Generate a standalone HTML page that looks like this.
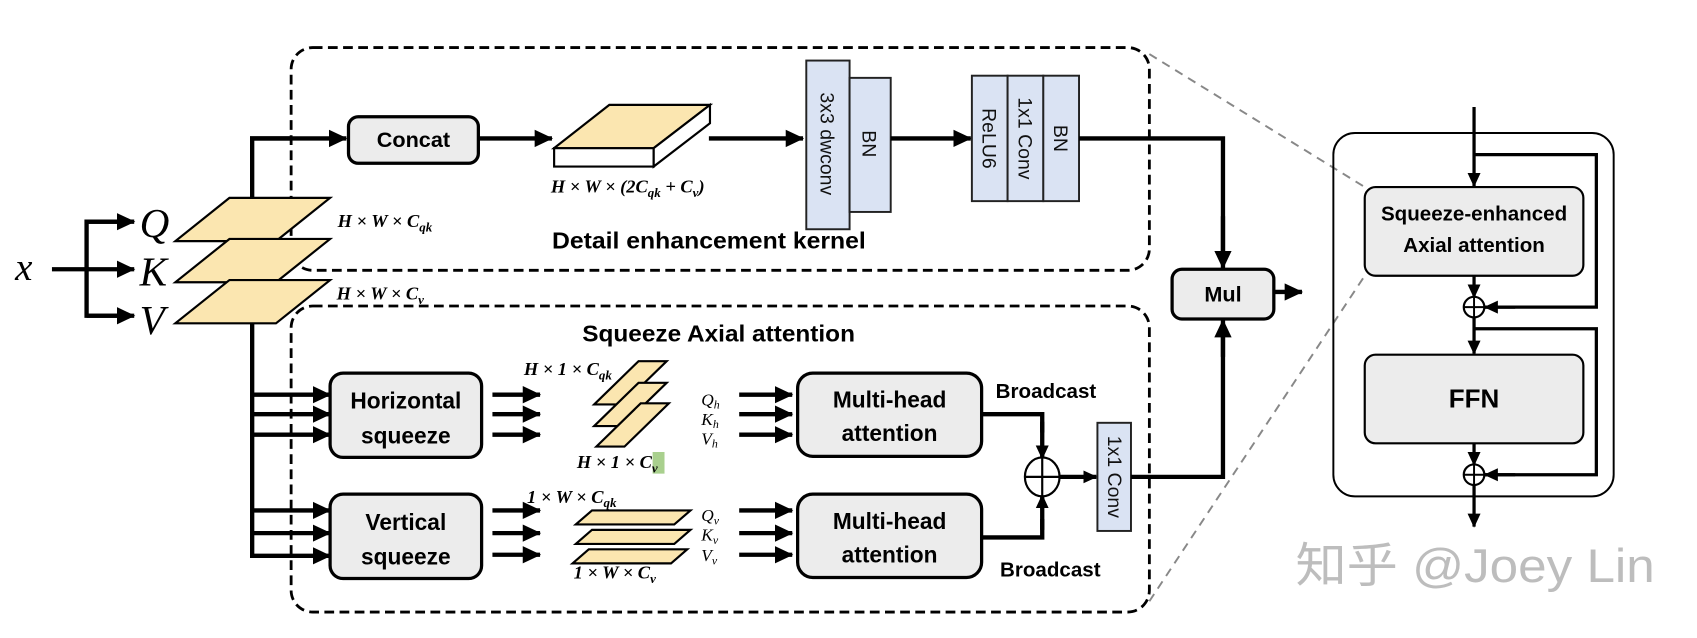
<!DOCTYPE html>
<html><head><meta charset="utf-8"><style>
html,body{margin:0;padding:0;background:#fff;}
svg{display:block;}
.b{font-family:"Liberation Sans",sans-serif;font-weight:bold;fill:#000;}
.m{font-family:"Liberation Serif",serif;font-style:italic;font-weight:bold;fill:#000;}
.mi{font-family:"Liberation Serif",serif;font-style:italic;fill:#000;}
.r{font-family:"Liberation Sans",sans-serif;fill:#111;}
</style></head><body>
<svg width="1697" height="638" viewBox="0 0 1568 590" preserveAspectRatio="none" xmlns="http://www.w3.org/2000/svg">
<defs>
<marker id="a" markerUnits="userSpaceOnUse" markerWidth="18" markerHeight="18" refX="16" refY="9" orient="auto"><path d="M0,1 L17,9 L0,17 Z" fill="#000"/></marker>
<marker id="s" markerUnits="userSpaceOnUse" markerWidth="14" markerHeight="14" refX="12" refY="7" orient="auto"><path d="M0,1 L13,7 L0,13 Z" fill="#000"/></marker>
</defs>
<rect width="1568" height="590" fill="#fff"/>

<line x1="1062" y1="50" x2="1261" y2="173" stroke="#888" stroke-width="1.8" stroke-dasharray="8,6"/>
<line x1="1062" y1="556" x2="1261" y2="255" stroke="#888" stroke-width="1.8" stroke-dasharray="8,6"/>

<rect x="269" y="44" width="793" height="206" rx="20" fill="none" stroke="#000" stroke-width="2.6" stroke-dasharray="9,5"/>
<rect x="269" y="283" width="793" height="283" rx="20" fill="none" stroke="#000" stroke-width="2.6" stroke-dasharray="9,5"/>

<text x="14" y="259" class="mi" font-size="36">x</text>
<polyline points="48,249 82,249" stroke="#000" stroke-width="4" fill="none"/>
<polyline points="110,205 80,205 80,292 110,292" stroke="#000" stroke-width="4" fill="none"/>
<line x1="80" y1="205" x2="124" y2="205" stroke="#000" stroke-width="4" marker-end="url(#a)"/>
<line x1="80" y1="249" x2="124" y2="249" stroke="#000" stroke-width="4" marker-end="url(#a)"/>
<line x1="80" y1="292" x2="124" y2="292" stroke="#000" stroke-width="4" marker-end="url(#a)"/>
<text x="129" y="219" class="mi" font-size="38">Q</text>
<text x="129" y="264" class="mi" font-size="38">K</text>
<text x="129" y="309" class="mi" font-size="38">V</text>

<polyline points="233,298 233,516" stroke="#000" stroke-width="4" fill="none"/>
<polyline points="233,183 233,128 270,128" stroke="#000" stroke-width="4" fill="none"/>
<line x1="231" y1="128" x2="320" y2="128" stroke="#000" stroke-width="4" marker-end="url(#a)"/>

<polygon points="212,183 305,183 255,223 162,223" fill="#fbe6b0" stroke="#000" stroke-width="2"/>
<polygon points="212,221 305,221 255,261 162,261" fill="#fbe6b0" stroke="#000" stroke-width="2"/>
<polygon points="212,259 305,259 255,299 162,299" fill="#fbe6b0" stroke="#000" stroke-width="2"/>
<text x="312" y="210" class="m" font-size="17">H × W × C<tspan font-size="12" dy="4">qk</tspan></text>
<text x="311" y="277" class="m" font-size="17">H × W × C<tspan font-size="12" dy="4">v</tspan></text>

<rect x="322" y="108" width="120" height="43" rx="9" fill="#ececec" stroke="#000" stroke-width="3"/>
<text x="382" y="136" class="b" font-size="20" text-anchor="middle">Concat</text>
<line x1="442" y1="128" x2="510" y2="128" stroke="#000" stroke-width="4" marker-end="url(#a)"/>

<polygon points="512,137 563,97 656,97 604,137" fill="#fbe6b0" stroke="#000" stroke-width="2"/>
<polygon points="512,137 604,137 604,154 512,154" fill="#fff" stroke="#000" stroke-width="2"/>
<polygon points="604,137 656,97 656,114 604,154" fill="#fff" stroke="#000" stroke-width="2"/>
<text x="509" y="178" class="m" font-size="17">H × W × (2C<tspan font-size="12" dy="4">qk</tspan><tspan dy="-4"> + C</tspan><tspan font-size="12" dy="4">v</tspan><tspan dy="-4">)</tspan></text>
<line x1="655" y1="128" x2="742" y2="128" stroke="#000" stroke-width="4" marker-end="url(#a)"/>

<rect x="745" y="56" width="40" height="156" fill="#dae3f3" stroke="#222" stroke-width="1.8"/>
<rect x="785" y="72" width="38" height="124" fill="#dae3f3" stroke="#222" stroke-width="1.8"/>
<text transform="translate(758,133) rotate(90)" class="r" font-size="18" text-anchor="middle">3x3 dwconv</text>
<text transform="translate(797,133) rotate(90)" class="r" font-size="18" text-anchor="middle">BN</text>
<line x1="823" y1="128" x2="897" y2="128" stroke="#000" stroke-width="4" marker-end="url(#a)"/>

<rect x="898" y="70" width="33" height="116" fill="#dae3f3" stroke="#222" stroke-width="1.8"/>
<rect x="931" y="70" width="33" height="116" fill="#dae3f3" stroke="#222" stroke-width="1.8"/>
<rect x="964" y="70" width="33" height="116" fill="#dae3f3" stroke="#222" stroke-width="1.8"/>
<text transform="translate(908,128) rotate(90)" class="r" font-size="18" text-anchor="middle">ReLU6</text>
<text transform="translate(941,128) rotate(90)" class="r" font-size="18" text-anchor="middle">1x1 Conv</text>
<text transform="translate(974,128) rotate(90)" class="r" font-size="18" text-anchor="middle">BN</text>
<polyline points="997,128 1130,128 1130,236" stroke="#000" stroke-width="4" fill="none"/>
<line x1="1130" y1="200" x2="1130" y2="248" stroke="#000" stroke-width="4" marker-end="url(#a)"/>

<text x="510" y="230" class="b" font-size="21" textLength="290" lengthAdjust="spacingAndGlyphs">Detail enhancement kernel</text>
<text x="538" y="316" class="b" font-size="21" textLength="252" lengthAdjust="spacingAndGlyphs">Squeeze Axial attention</text>

<rect x="1083" y="249" width="94" height="46" rx="9" fill="#ececec" stroke="#000" stroke-width="3"/>
<text x="1130" y="279" class="b" font-size="20" text-anchor="middle">Mul</text>
<line x1="1177" y1="270" x2="1203" y2="270" stroke="#000" stroke-width="4" marker-end="url(#a)"/>

<g stroke="#000" stroke-width="4">
<line x1="233" y1="365" x2="305" y2="365" marker-end="url(#a)"/>
<line x1="233" y1="383" x2="305" y2="383" marker-end="url(#a)"/>
<line x1="233" y1="402" x2="305" y2="402" marker-end="url(#a)"/>
<line x1="233" y1="472" x2="305" y2="472" marker-end="url(#a)"/>
<line x1="233" y1="493" x2="305" y2="493" marker-end="url(#a)"/>
<line x1="231" y1="514" x2="305" y2="514" marker-end="url(#a)"/>
<line x1="455" y1="365" x2="499" y2="365" marker-end="url(#a)"/>
<line x1="455" y1="383" x2="499" y2="383" marker-end="url(#a)"/>
<line x1="455" y1="402" x2="499" y2="402" marker-end="url(#a)"/>
<line x1="455" y1="472" x2="499" y2="472" marker-end="url(#a)"/>
<line x1="455" y1="493" x2="499" y2="493" marker-end="url(#a)"/>
<line x1="455" y1="513" x2="499" y2="513" marker-end="url(#a)"/>
<line x1="683" y1="365" x2="732" y2="365" marker-end="url(#a)"/>
<line x1="683" y1="383" x2="732" y2="383" marker-end="url(#a)"/>
<line x1="683" y1="402" x2="732" y2="402" marker-end="url(#a)"/>
<line x1="683" y1="472" x2="732" y2="472" marker-end="url(#a)"/>
<line x1="683" y1="493" x2="732" y2="493" marker-end="url(#a)"/>
<line x1="683" y1="513" x2="732" y2="513" marker-end="url(#a)"/>
</g>

<rect x="305" y="345" width="140" height="78" rx="12" fill="#ececec" stroke="#000" stroke-width="3"/>
<text x="375" y="378" class="b" font-size="21" text-anchor="middle">Horizontal</text>
<text x="375" y="410" class="b" font-size="21" text-anchor="middle">squeeze</text>
<rect x="305" y="457" width="140" height="78" rx="12" fill="#ececec" stroke="#000" stroke-width="3"/>
<text x="375" y="490" class="b" font-size="21" text-anchor="middle">Vertical</text>
<text x="375" y="522" class="b" font-size="21" text-anchor="middle">squeeze</text>

<polygon points="549,374 590,334 616,334 575,374" fill="#fbe6b0" stroke="#000" stroke-width="2"/>
<polygon points="549,394 590,354 616,354 575,394" fill="#fbe6b0" stroke="#000" stroke-width="2"/>
<polygon points="551,413 592,373 618,373 577,413" fill="#fbe6b0" stroke="#000" stroke-width="2"/>
<text x="484" y="347" class="m" font-size="17">H × 1 × C<tspan font-size="12" dy="4">qk</tspan></text>
<rect x="603" y="418" width="11" height="20" fill="#a9d08e"/>
<text x="533" y="433" class="m" font-size="17">H × 1 × C<tspan font-size="12" dy="4">v</tspan></text>

<polygon points="532,485 547,472 638,472 623,485" fill="#fbe6b0" stroke="#000" stroke-width="2"/>
<polygon points="532,503 547,490 638,490 623,503" fill="#fbe6b0" stroke="#000" stroke-width="2"/>
<polygon points="529,521 544,508 635,508 620,521" fill="#fbe6b0" stroke="#000" stroke-width="2"/>
<text x="487" y="465" class="m" font-size="17">1 × W × C<tspan font-size="12" dy="4">qk</tspan></text>
<text x="530" y="535" class="m" font-size="17">1 × W × C<tspan font-size="12" dy="4">v</tspan></text>

<g class="mi" font-size="16">
<text x="648" y="375">Q<tspan font-size="11" dy="3">h</tspan></text>
<text x="648" y="393">K<tspan font-size="11" dy="3">h</tspan></text>
<text x="648" y="411">V<tspan font-size="11" dy="3">h</tspan></text>
<text x="648" y="482">Q<tspan font-size="11" dy="3">v</tspan></text>
<text x="648" y="500">K<tspan font-size="11" dy="3">v</tspan></text>
<text x="648" y="519">V<tspan font-size="11" dy="3">v</tspan></text>
</g>

<rect x="737" y="345" width="170" height="77" rx="14" fill="#ececec" stroke="#000" stroke-width="3"/>
<text x="822" y="377" class="b" font-size="21" text-anchor="middle">Multi-head</text>
<text x="822" y="408" class="b" font-size="21" text-anchor="middle">attention</text>
<rect x="737" y="457" width="170" height="77" rx="14" fill="#ececec" stroke="#000" stroke-width="3"/>
<text x="822" y="489" class="b" font-size="21" text-anchor="middle">Multi-head</text>
<text x="822" y="520" class="b" font-size="21" text-anchor="middle">attention</text>
<text x="920" y="368" class="b" font-size="19">Broadcast</text>
<text x="924" y="533" class="b" font-size="19">Broadcast</text>

<polyline points="907,383 963,383 963,400" stroke="#000" stroke-width="4" fill="none"/>
<line x1="963" y1="390" x2="963" y2="424" stroke="#000" stroke-width="4" marker-end="url(#s)"/>
<polyline points="907,497 963,497 963,480" stroke="#000" stroke-width="4" fill="none"/>
<line x1="963" y1="490" x2="963" y2="458" stroke="#000" stroke-width="4" marker-end="url(#s)"/>
<ellipse cx="963" cy="441" rx="16" ry="18" fill="#fff" stroke="#000" stroke-width="2"/>
<line x1="947" y1="441" x2="979" y2="441" stroke="#000" stroke-width="2"/>
<line x1="963" y1="423" x2="963" y2="459" stroke="#000" stroke-width="2"/>
<line x1="979" y1="441" x2="1013" y2="441" stroke="#000" stroke-width="4" marker-end="url(#s)"/>
<rect x="1014" y="391" width="31" height="100" fill="#dae3f3" stroke="#222" stroke-width="1.8"/>
<text transform="translate(1024,441) rotate(90)" class="r" font-size="18" text-anchor="middle">1x1 Conv</text>
<polyline points="1045,441 1130,441 1130,310" stroke="#000" stroke-width="4" fill="none"/>
<line x1="1130" y1="330" x2="1130" y2="296" stroke="#000" stroke-width="4" marker-end="url(#a)"/>

<rect x="1232" y="123" width="259" height="336" rx="20" fill="none" stroke="#000" stroke-width="1.8"/>
<line x1="1362" y1="99" x2="1362" y2="172" stroke="#000" stroke-width="3" marker-end="url(#s)"/>
<polyline points="1362,143 1475,143 1475,284 1372,284" stroke="#000" stroke-width="3" fill="none"/>
<line x1="1400" y1="284" x2="1372" y2="284" stroke="#000" stroke-width="3" marker-end="url(#s)"/>
<rect x="1261" y="173" width="202" height="82" rx="10" fill="#ececec" stroke="#000" stroke-width="2"/>
<text x="1362" y="204" class="b" font-size="19" text-anchor="middle">Squeeze-enhanced</text>
<text x="1362" y="233" class="b" font-size="19" text-anchor="middle">Axial attention</text>
<line x1="1362" y1="255" x2="1362" y2="275" stroke="#000" stroke-width="3" marker-end="url(#s)"/>
<circle cx="1362" cy="284" r="9.5" fill="#fff" stroke="#000" stroke-width="2"/>
<line x1="1352" y1="284" x2="1372" y2="284" stroke="#000" stroke-width="1.8"/>
<line x1="1362" y1="274" x2="1362" y2="294" stroke="#000" stroke-width="1.8"/>
<line x1="1362" y1="294" x2="1362" y2="327" stroke="#000" stroke-width="3" marker-end="url(#s)"/>
<polyline points="1362,304 1475,304 1475,439 1372,439" stroke="#000" stroke-width="3" fill="none"/>
<line x1="1400" y1="439" x2="1372" y2="439" stroke="#000" stroke-width="3" marker-end="url(#s)"/>
<rect x="1261" y="328" width="202" height="82" rx="10" fill="#ececec" stroke="#000" stroke-width="2"/>
<text x="1362" y="377" class="b" font-size="24" text-anchor="middle">FFN</text>
<line x1="1362" y1="410" x2="1362" y2="430" stroke="#000" stroke-width="3" marker-end="url(#s)"/>
<circle cx="1362" cy="439" r="9.5" fill="#fff" stroke="#000" stroke-width="2"/>
<line x1="1352" y1="439" x2="1372" y2="439" stroke="#000" stroke-width="1.8"/>
<line x1="1362" y1="429" x2="1362" y2="449" stroke="#000" stroke-width="1.8"/>
<line x1="1362" y1="449" x2="1362" y2="487" stroke="#000" stroke-width="3" marker-end="url(#s)"/>

<text x="1197" y="538" font-family="Liberation Sans, Noto Sans CJK SC, sans-serif" font-size="44" fill="#bdbdbd" textLength="332" lengthAdjust="spacingAndGlyphs">知乎 @Joey Lin</text>
</svg>
</body></html>
